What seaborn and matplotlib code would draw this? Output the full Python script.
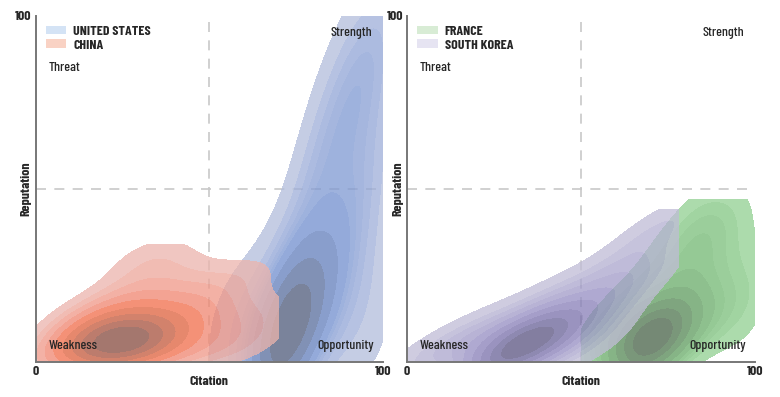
import matplotlib
matplotlib.use("Agg")
import matplotlib.pyplot as plt
from matplotlib.patches import Patch
import pandas as pd
import seaborn as sns

# hand-read sample points (citation, reputation) per country
us_x = [70, 72, 74, 71, 73, 69, 68, 75, 72, 76, 70, 71, 73, 69,
        64, 66, 78, 80, 82, 76, 84, 62, 86, 88, 90, 94, 60,
        55, 56, 100, 98, 94, 100, 84, 50, 92, 75, 78,
        88, 96, 100, 90, 97, 84, 100, 93, 98, 90, 100, 86, 96, 99, 80, 82, 86]
us_y = [5, 8, 3, 10, 6, 12, 2, 9, 15, 4, 0, 7, 4, 9,
        8, 16, 12, 6, 18, 22, 10, 3, 25, 6, 16, 4, 14,
        20, 5, 2, 28, 36, 14, 32, 12, 45, 40, 45,
        48, 50, 58, 62, 70, 72, 80, 85, 92, 100, 100, 58, 96, 88, 55, 66, 80]

china_x = [20, 22, 24, 25, 26, 27, 23, 28, 21, 25, 18, 30,
           14, 16, 18, 30, 33, 35, 36, 38, 30, 12, 40, 42, 22, 45,
           0, 8, 10, 45, 48, 52, 55, 58, 62, 66, 70, 40, 28, 65, 50, 35]
china_y = [4, 7, 3, 6, 9, 4, 5, 7, 0, 11, 6, 3,
           3, 9, 14, 14, 6, 2, 18, 10, 22, 6, 4, 14, 18, 8,
           0, 4, 12, 24, 14, 18, 4, 24, 12, 6, 16, 30, 28, 28, 2, 34]

france_x = [68, 70, 72, 67, 69, 71, 66, 73, 69, 70, 65,
            60, 62, 75, 77, 79, 80, 63, 78, 84, 74,
            50, 57, 85, 88, 90, 92, 95, 98, 100, 86, 80, 94, 100, 70, 84]
france_y = [4, 7, 3, 9, 5, 8, 2, 5, 0, 12, 6,
            4, 10, 14, 4, 10, 22, 16, 28, 14, 8,
            2, 12, 30, 8, 22, 36, 14, 30, 4, 42, 36, 44, 20, 30, 47]

korea_x = [30, 32, 34, 31, 33, 35, 29, 36, 28, 34, 32,
           22, 24, 26, 40, 42, 38, 44, 20, 46, 48,
           0, 10, 14, 52, 55, 58, 50, 62, 64, 70, 72, 78, 68, 40, 58]
korea_y = [3, 5, 2, 7, 4, 6, 1, 3, 5, 9, 0,
           4, 9, 1, 4, 10, 14, 2, 7, 14, 6,
           0, 3, 8, 10, 4, 16, 22, 28, 24, 38, 36, 44, 26, 20, 18]

panels = [
    [("UNITED STATES", us_x, us_y, "#6282c4", "#d4e3f5"),
     ("CHINA", china_x, china_y, "#e0603a", "#f9d2c4")],
    [("FRANCE", france_x, france_y, "#5f9e5f", "#d8ecd5"),
     ("SOUTH KOREA", korea_x, korea_y, "#6f64a8", "#e6e4f2")],
]


def fade(img, dpi):
    # draw the contour stack opaque, then make the whole layer see-through
    img = img.copy()
    img[..., 3] *= 0.75
    return img, 0, 0


sns.set_style("white")
plt.rcParams["font.family"] = ["Barlow Condensed", "Barlow Semi Condensed", "Archivo Narrow", "DejaVu Sans"]

fig = plt.figure(figsize=(7.8, 3.97), dpi=100)
axes = [fig.add_axes([0.046, 0.088, 0.445, 0.872]),
        fig.add_axes([0.522, 0.088, 0.446, 0.872])]

for ax, group in zip(axes, panels):
    handles = []
    for name, xs, ys, col, light in group:
        n_before = len(ax.collections)
        df = pd.DataFrame({"Citation": xs, "Reputation": ys})
        sns.kdeplot(data=df, x="Citation", y="Reputation", fill=True, color=col,
                    levels=10, thresh=0.05, cut=0, bw_adjust=1.15, ax=ax)
        for c in ax.collections[n_before:]:
            c.set_agg_filter(fade)
        handles.append(Patch(facecolor=light, edgecolor="none", label=name))

    ax.axvline(50, color="#c8c8c8", ls=(0, (6, 5)), lw=1.2, zorder=0)
    ax.axhline(50, color="#c8c8c8", ls=(0, (6, 5)), lw=1.2, zorder=0)

    ax.set_xlim(0, 100)
    ax.set_ylim(0, 100)
    ax.set_xticks([0, 100])
    ax.set_yticks([100])
    ax.tick_params(length=0, labelsize=10, pad=3)
    for lab in ax.get_xticklabels() + ax.get_yticklabels():
        lab.set_fontweight("bold")
    ax.set_xlabel("Citation", fontsize=10, fontweight="bold")
    ax.set_ylabel("Reputation", fontsize=10, fontweight="bold")
    ax.xaxis.set_label_coords(0.5, -0.04)
    ax.yaxis.set_label_coords(-0.012, 0.5)
    sns.despine(ax=ax)
    for s in ["left", "bottom"]:
        ax.spines[s].set_color("#777777")
        ax.spines[s].set_linewidth(1.4)

    ax.text(3.7, 85, "Threat", fontsize=10, fontweight="medium", va="center", ha="left")
    ax.text(97, 95, "Strength", fontsize=10, fontweight="medium", va="center", ha="right")
    ax.text(3.7, 4.5, "Weakness", fontsize=10, fontweight="medium", va="center", ha="left")
    ax.text(97.5, 4.5, "Opportunity", fontsize=10, fontweight="medium", va="center", ha="right")

    ax.legend(handles=handles, loc="upper left", frameon=False,
              prop={"weight": "bold", "size": 10}, handlelength=1.5, handleheight=0.55,
              handletextpad=0.5, borderaxespad=0.3, labelspacing=0.2)

fig.savefig("out.png", dpi=100)
